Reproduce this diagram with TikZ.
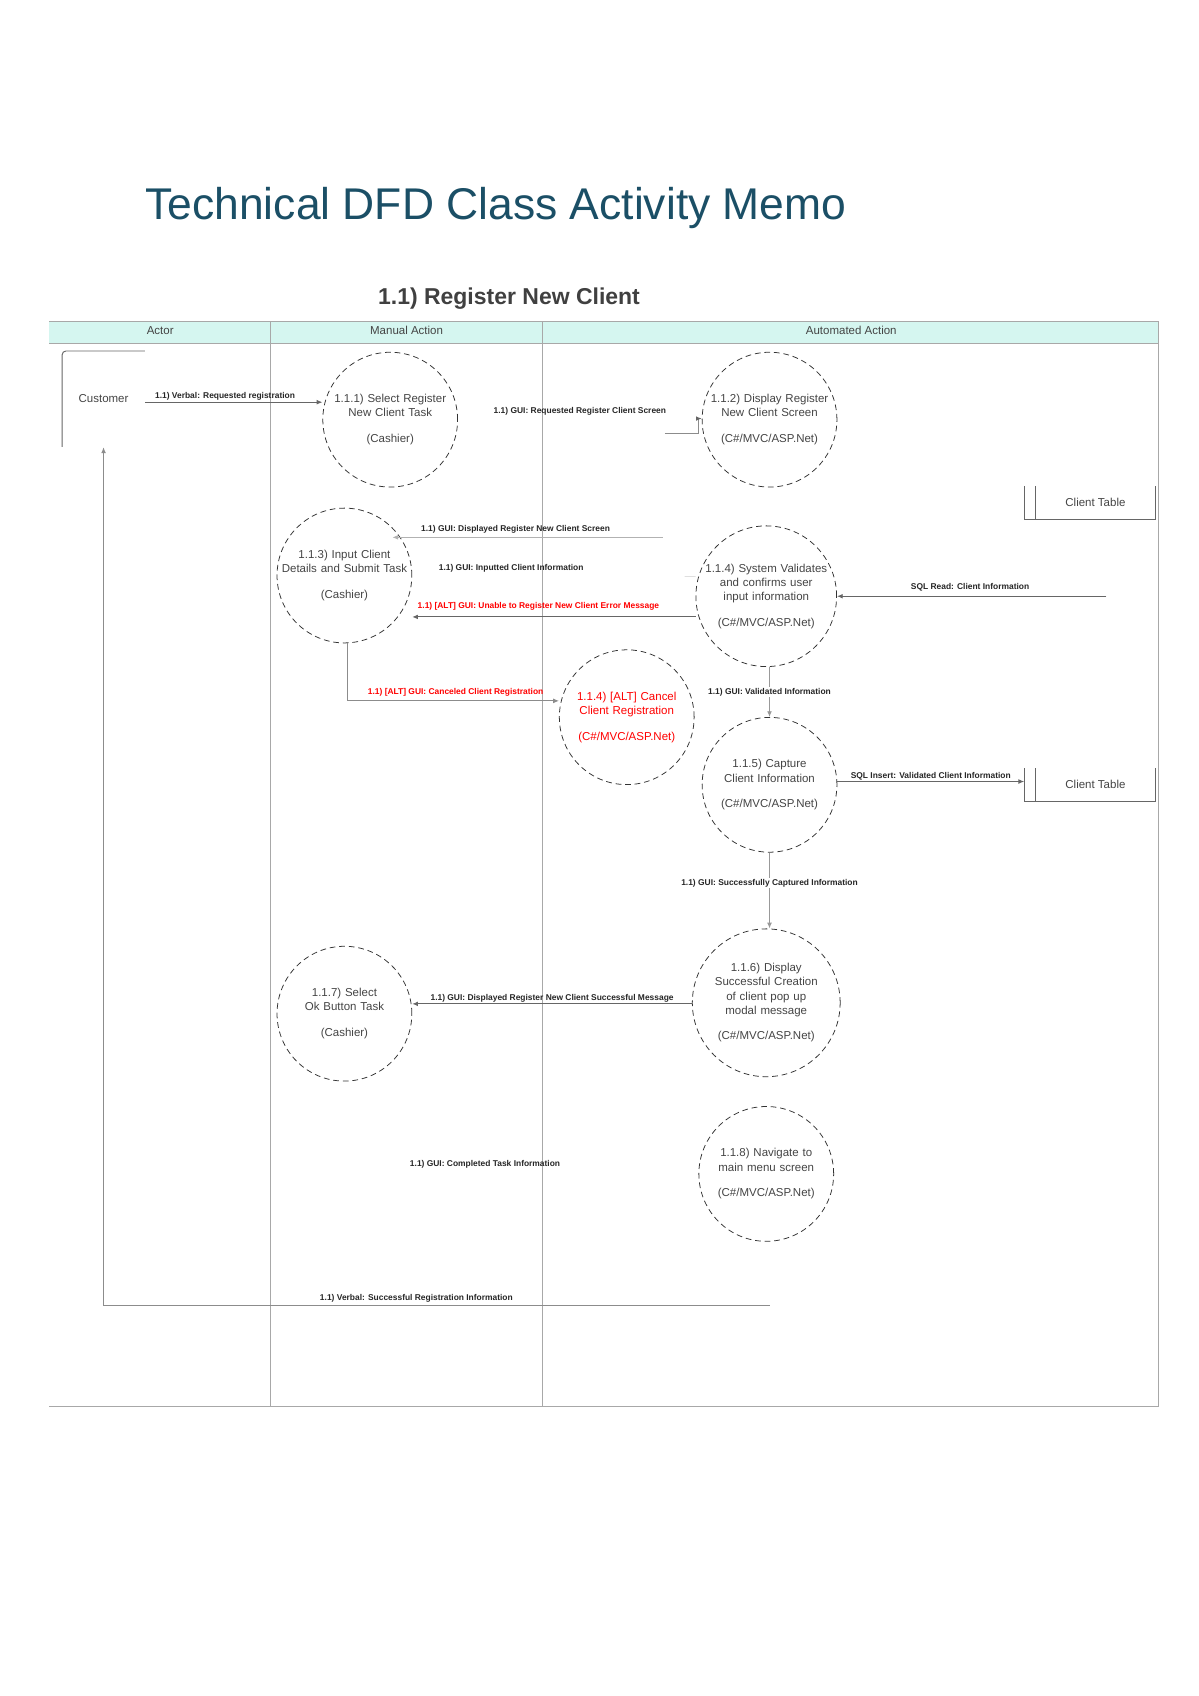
\documentclass[tikz,border=0pt]{standalone}
\usepackage{fontspec}
\setmainfont{Liberation Sans}
\usetikzlibrary{arrows.meta}
\definecolor{titlec}{HTML}{1B4F66}
\definecolor{hdr}{HTML}{D5F6F0}
\definecolor{lane}{HTML}{A8A8A8}
\definecolor{txt}{HTML}{444444}
\lefthyphenmin=64
\begin{document}
\begin{tikzpicture}[x=0.02cm,y=-0.02cm,
  proc/.style={circle,draw=black!80,densely dashed,line width=0.4pt,minimum size=2.42cm,inner sep=0pt,align=center,font=\fontsize{6}{7.4}\selectfont,text=txt,text width=2.3cm},
  lbl/.style={font=\fontsize{4.4}{5}\selectfont\bfseries,text=black!85,inner sep=0.5pt},
  rlbl/.style={lbl,text=red},
  flow/.style={draw=black!60,line width=0.5pt,-{Latex[length=3pt,width=2.5pt]}},
  plain/.style={draw=black!45,line width=0.5pt},
  hd/.style={font=\fontsize{6}{7}\selectfont,text=txt}]
\useasboundingbox (0,0) rectangle (1100,1556);
% title
\node[anchor=base west,font=\fontsize{23.2}{26}\selectfont,text=titlec,inner sep=0] (title) at (133,201) {Technical DFD Class Activity Memo};
\node[anchor=base,font=\fontsize{12}{14}\selectfont\bfseries,text=black!75,inner sep=0] (sub) at (467,279) {1.1) Register New Client};
% lanes
\fill[hdr] (45,295) rectangle (1063,315);
\draw[lane,line width=0.5pt] (45,295) -- (1063,295) -- (1063,1290) -- (45,1290);
\draw[lane,line width=0.5pt] (45,315) -- (1063,315);
\draw[lane,line width=0.5pt] (248,295) -- (248,1290);
\draw[lane,line width=0.5pt] (498,295) -- (498,1290);
\node[hd] (h1) at (147,303) {Actor};
\node[hd] (h2) at (373,303) {Manual Action};
\node[hd] (h3) at (781,303) {Automated Action};
% customer
\draw[black!60,line width=0.5pt,rounded corners=2pt] (133,322) -- (57,322) -- (57,410);
\node[font=\fontsize{6}{7}\selectfont,text=txt,minimum width=1.52cm,minimum height=1.76cm] (cust) at (95,366) {Customer};
% processes
\node[proc] (c1) at (358,385) {1.1.1) Select Register New Client Task\\[6pt](Cashier)};
\node[proc] (c2) at (706,385) {1.1.2) Display Register New Client Screen\\[6pt](C\#/MVC/ASP.Net)};
\node[proc] (c3) at (316,528) {1.1.3) Input Client Details and Submit Task\\[6pt](Cashier)};
\node[proc] (c4) at (703,547) {1.1.4) System Validates and confirms user input information\\[6pt](C\#/MVC/ASP.Net)};
\node[proc,text=red] (c5) at (575,658) {1.1.4) [ALT] Cancel Client Registration\\[6pt](C\#/MVC/ASP.Net)};
\node[proc] (c6) at (706,720) {1.1.5) Capture Client Information\\[6pt](C\#/MVC/ASP.Net)};
\node[proc] (c7) at (703,920) {1.1.6) Display Successful Creation of client pop up modal message\\[6pt](C\#/MVC/ASP.Net)};
\node[proc] (c8) at (316,930) {1.1.7) Select Ok Button Task\\[6pt](Cashier)};
\node[proc] (c9) at (703,1077) {1.1.8) Navigate to main menu screen\\[6pt](C\#/MVC/ASP.Net)};
% data stores
\node[minimum width=2.4cm,minimum height=0.6cm,font=\fontsize{6}{7}\selectfont,text=txt,inner sep=0] (t1) at (1000,461) {\hspace{0.2cm}Client Table};
\node[minimum width=2.4cm,minimum height=0.6cm,font=\fontsize{6}{7}\selectfont,text=txt,inner sep=0] (t2) at (1000,720) {\hspace{0.2cm}Client Table};
\foreach \t in {t1,t2}{
  \draw[black!60,line width=0.5pt] (\t.north west) -- (\t.south west) -- (\t.south east) -- (\t.north east);
  \draw[black!60,line width=0.5pt] ([xshift=0.2cm]\t.north west) -- ([xshift=0.2cm]\t.south west);
}
% coordinates
\coordinate (a2s) at (610,398);
\coordinate (a2m) at (641,398);
\coordinate (a3s) at (608,493);
\coordinate (a4s) at (628,529);
\coordinate (a6s) at (1015,547);
\coordinate (a7m) at (319,643);
\coordinate (a12s) at (628,1077);
\coordinate (a13s) at (706,1198);
\coordinate (a13m) at (95,1198);
% flows
\draw[flow] (cust.east |- 0,369) -- node[lbl,above,pos=0.45] {1.1) Verbal: Requested registration} (c1.west |- 0,369);
\node[lbl] (l2) at (532,377) {1.1) GUI: Requested Register Client Screen};
\draw[plain] (a2s) -- (a2m) -- (641,384);
\draw[flow] (641,384) -- (c2.west |- 0,384);
\draw[flow,draw=black!30] (a3s) -- (c3.north east |- 0,493);
\node[lbl] (l3) at (473,486) {1.1) GUI: Displayed Register New Client Screen};
\node[lbl] (l4) at (469,521) {1.1) GUI: Inputted Client Information};
\draw[flow,draw=none,fill=black] (a4s) -- (c4.west |- 0,529);
\draw[flow] (c4.west |- 0,566) -- (c3.east |- 0,566);
\node[rlbl] (l5) at (494,556) {1.1) [ALT] GUI: Unable to Register New Client Error Message};
\draw[flow] (a6s) -- (c4.east |- 0,547);
\node[lbl] (l6) at (890,539) {SQL Read: Client Information};
\draw[plain] (c3.south -| 319,0) -- (a7m);
\draw[flow,draw=black!45] (a7m) -- (c5.west |- 0,643);
\node[rlbl] (l7) at (418,635) {1.1) [ALT] GUI: Canceled Client Registration};
\draw[flow,draw=black!40] (c4.south -| 706,0) -- node[lbl,fill=white] {1.1) GUI: Validated Information} (c6.north);
\draw[flow] (c6.east |- 0,717) -- node[lbl,above] {SQL Insert: Validated Client Information} (t2.west |- 0,717);
\draw[flow,draw=black!40] (c6.south) -- node[lbl,fill=white,pos=0.4] {1.1) GUI: Successfully Captured Information} (c7.north -| 706,0);
\draw[flow] (c7.west |- 0,921) -- node[lbl,above] {1.1) GUI: Displayed Register New Client Successful Message} (c8.east |- 0,921);
\node[lbl] (l12) at (445,1068) {1.1) GUI: Completed Task Information};
\draw[flow,draw=none] (a12s) -- (c9.west |- 0,1077);
\draw[flow,draw=black!45] (a13s) -- (a13m) -- (cust.south);
\node[lbl] (l13) at (382,1191) {1.1) Verbal: Successful Registration Information};
\end{tikzpicture}
\end{document}
